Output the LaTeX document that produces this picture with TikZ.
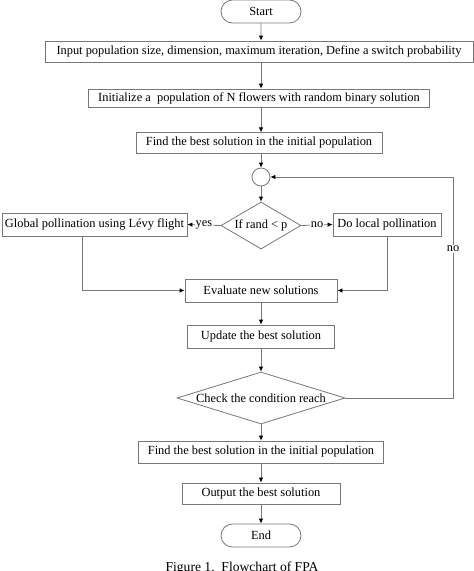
\documentclass[tikz,border=0pt]{standalone}
\usepackage{fontspec}
\setmainfont{Liberation Serif}
\usetikzlibrary{shapes.geometric,shapes.misc,arrows.meta}
\definecolor{lc}{RGB}{120,120,120}
\tikzset{
  txt/.style={font=\fontsize{12.4}{14}\selectfont,text=black},
  box/.style={draw=lc,line width=0.8pt,rectangle,inner sep=0pt,txt},
  term/.style={draw=lc,line width=0.8pt,rounded rectangle,inner sep=0pt,minimum width=80pt,minimum height=23pt,txt},
  dec/.style={draw=lc,line width=0.8pt,diamond,inner sep=0pt,txt},
  arr/.style={draw=lc,line width=0.8pt,-{Latex[length=5pt,width=4.5pt,color=black]}},
  lbl/.style={fill=white,inner sep=1pt,txt}
}
\begin{document}
\begin{tikzpicture}[x=1pt,y=-1pt]
\useasboundingbox[fill=white] (0,0) rectangle (474,571);
\node[term] (start) at (261,11.5) {Start};
\node[box,minimum width=428pt,minimum height=21pt] (b1) at (259,51.5) {Input population size, dimension, maximum iteration, Define a switch probability};
\node[box,minimum width=341pt,minimum height=18pt] (b2) at (259,98) {Initialize a\ \ population of N flowers with random binary solution};
\node[box,minimum width=246pt,minimum height=20.5pt] (b3) at (259,143) {Find the best solution in the initial population};
\node[draw=lc,line width=0.8pt,circle,minimum size=18pt,inner sep=0pt] (circ) at (261,177) {};
\node[dec,minimum width=80pt,minimum height=47pt,aspect=1.7] (d1) at (261,225.5) {If rand < p};
\node[box,minimum width=185pt,minimum height=23pt] (glob) at (94.5,224.5) {Global pollination using Lévy flight};
\node[box,minimum width=108pt,minimum height=23pt] (loc) at (387,224.5) {Do local pollination};
\node[box,minimum width=152pt,minimum height=23pt] (eval) at (261,290.5) {Evaluate new solutions};
\node[box,minimum width=147pt,minimum height=23pt] (upd) at (261,336.5) {Update the best solution};
\node[dec,minimum width=168pt,minimum height=52pt,aspect=3.23] (d2) at (261,398) {Check the condition reach};
\node[box,minimum width=245pt,minimum height=22pt] (f2) at (261,452) {Find the best solution in the initial population};
\node[box,minimum width=158pt,minimum height=21pt] (out) at (261,493.5) {Output the best solution};
\node[term] (end) at (261,535.5) {End};
\node[anchor=north,inner sep=0pt,font=\fontsize{13.6}{16}\selectfont] (cap) at (242,561.5) {Figure 1.\ \ Flowchart of FPA};
\coordinate (rt) at (453,398);
\coordinate (rtop) at (453,177);
\draw[arr] (start) -- (start |- b1.north);
\draw[arr] (b1.south -| start) -- (start |- b2.north);
\draw[arr] (b2.south -| start) -- (start |- b3.north);
\draw[arr] (b3.south -| circ) -- (circ);
\draw[arr] (circ) -- (d1);
\draw[arr] (d1.west) -- node[lbl]{yes} (glob.east);
\draw[arr] (d1.east) -- node[lbl]{no} (loc.west);
\draw[arr] ([xshift=-12.5pt]glob.south) |- (eval.west);
\draw[arr] (loc.south) |- (eval.east);
\draw[arr] (eval) -- (upd);
\draw[arr] (upd) -- (d2);
\draw[arr] (d2) -- (f2);
\draw[arr] (f2) -- (out);
\draw[arr] (out) -- (end);
\draw[arr] (d2.east) -- (rt) -- node[lbl,pos=0.674]{no} (rtop) -- (circ.east);
\end{tikzpicture}
\end{document}
